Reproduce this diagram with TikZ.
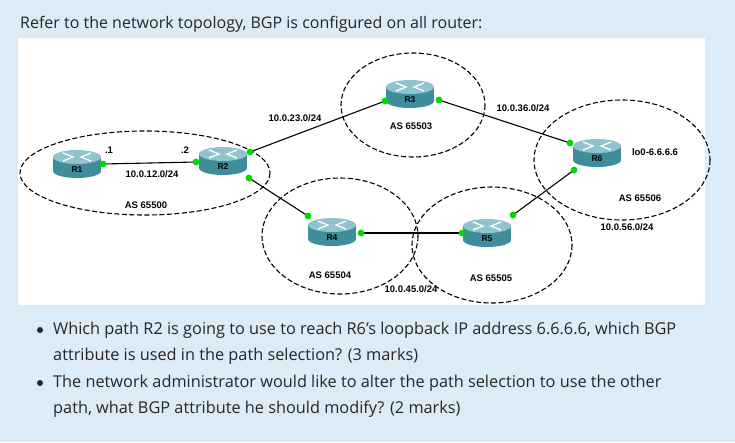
\documentclass[tikz,border=0pt]{standalone}
\usepackage{fontspec}
\setmainfont{Open Sans}
\setsansfont{Liberation Sans}
\begin{document}
\begin{tikzpicture}[x=1pt,y=-1pt,
  asring/.style={draw=black,line width=1.1pt,dash pattern=on 5pt off 2.5pt},
  link/.style={draw=black,line width=1.1pt},
  lab/.style={font=\sffamily\bfseries\fontsize{9.5}{10}\selectfont,inner sep=1pt},
  txt/.style={font=\fontsize{16.3}{20}\selectfont,text=black!85,anchor=west,inner sep=0pt}]
\definecolor{bg}{HTML}{DCEBF6}
\definecolor{rt}{HTML}{3F8C9B}
\definecolor{rtt}{HTML}{8FC4CE}
\colorlet{gdot}{green!85!black}
\fill[bg] (0,0) rectangle (735,442);
\useasboundingbox (0,0) rectangle (735,442);
\fill[white] (18,38) rectangle (705,305);
\node[txt,font=\fontsize{16}{20}\selectfont] (title) at (20,24) {Refer to the network topology, BGP is configured on all router:};
% AS rings
\draw[asring] (145,173) ellipse (125 and 42);
\draw[asring] (413,105) ellipse (72 and 52);
\draw[asring] (340,236) ellipse (78 and 58);
\draw[asring] (492,245) ellipse (80 and 58);
\draw[asring] (622,160) ellipse (88 and 60);
% routers
\newcommand\rtr[3]{%
  \fill[rt] (#2-24,#3-6) rectangle (#2+24,#3+8);
  \fill[rt] (#2,#3+8) ellipse (24 and 7);
  \fill[rtt] (#2,#3-6) ellipse (24 and 7);
  \draw[white,line width=1.3pt] (#2-14,#3-10)--(#2-4,#3-6)--(#2-14,#3-2) (#2+14,#3-10)--(#2+4,#3-6)--(#2+14,#3-2);
  \node[inner sep=0pt,minimum width=48pt,minimum height=30pt] (#1) at (#2,#3) {};
  \node[lab,font=\sffamily\bfseries\fontsize{8.5}{9}\selectfont] at (#2,#3+7) {#1};}
\rtr{R1}{77}{163}
\rtr{R2}{223}{160}
\rtr{R3}{410}{93}
\rtr{R4}{332}{231}
\rtr{R5}{487}{232}
\rtr{R6}{597}{152}
% link ends
\coordinate (d1) at (103,164);
\coordinate (d2) at (196,162);
\coordinate (d2a) at (250,152);
\coordinate (d2b) at (249,178);
\coordinate (d3a) at (385,101);
\coordinate (d3b) at (439,100);
\coordinate (d4a) at (308,216);
\coordinate (d4b) at (361,233);
\coordinate (d5a) at (462,233);
\coordinate (d5b) at (513,215);
\coordinate (d6a) at (570,143);
\coordinate (d6b) at (574,170);
\draw[link] (d1)--(d2);
\draw[link] (d2a)--(d3a);
\draw[link] (d3b)--(d6a);
\draw[link] (d2b)--(d4a);
\draw[link] (d4b)--(d5a);
\draw[link] (d5b)--(d6b);
\foreach \n in {d1,d2,d2a,d2b,d3a,d3b,d4a,d4b,d5a,d5b,d6a,d6b} \fill[gdot] (\n) circle (3.4);
% labels
\node[lab] at (109,150) {.1};
\node[lab] at (185,150) {.2};
\node[lab] at (152,174) {10.0.12.0/24};
\node[lab] at (146,205) {AS 65500};
\node[lab] at (295,118) {10.0.23.0/24};
\node[lab] at (411,126) {AS 65503};
\node[lab] at (523,108) {10.0.36.0/24};
\node[lab] at (655,152) {lo0-6.6.6.6};
\node[lab] at (640,198) {AS 65506};
\node[lab] at (627,227) {10.0.56.0/24};
\node[lab] at (330,275) {AS 65504};
\node[lab] at (491,278) {AS 65505};
\node[lab] at (411,289) {10.0.45.0/24};
% bullets
\fill[black!85] (40,330) circle (3);
\node[txt] (b1) at (53,330) {Which path R2 is going to use to reach R6’s loopback IP address 6.6.6.6, which BGP};
\node[txt] (b1b) at (53,356) {attribute is used in the path selection? (3 marks)};
\fill[black!85] (40,383) circle (3);
\node[txt] (b2) at (53,383) {The network administrator would like to alter the path selection to use the other};
\node[txt] (b2b) at (53,409) {path, what BGP attribute he should modify? (2 marks)};
\end{tikzpicture}
\end{document}
